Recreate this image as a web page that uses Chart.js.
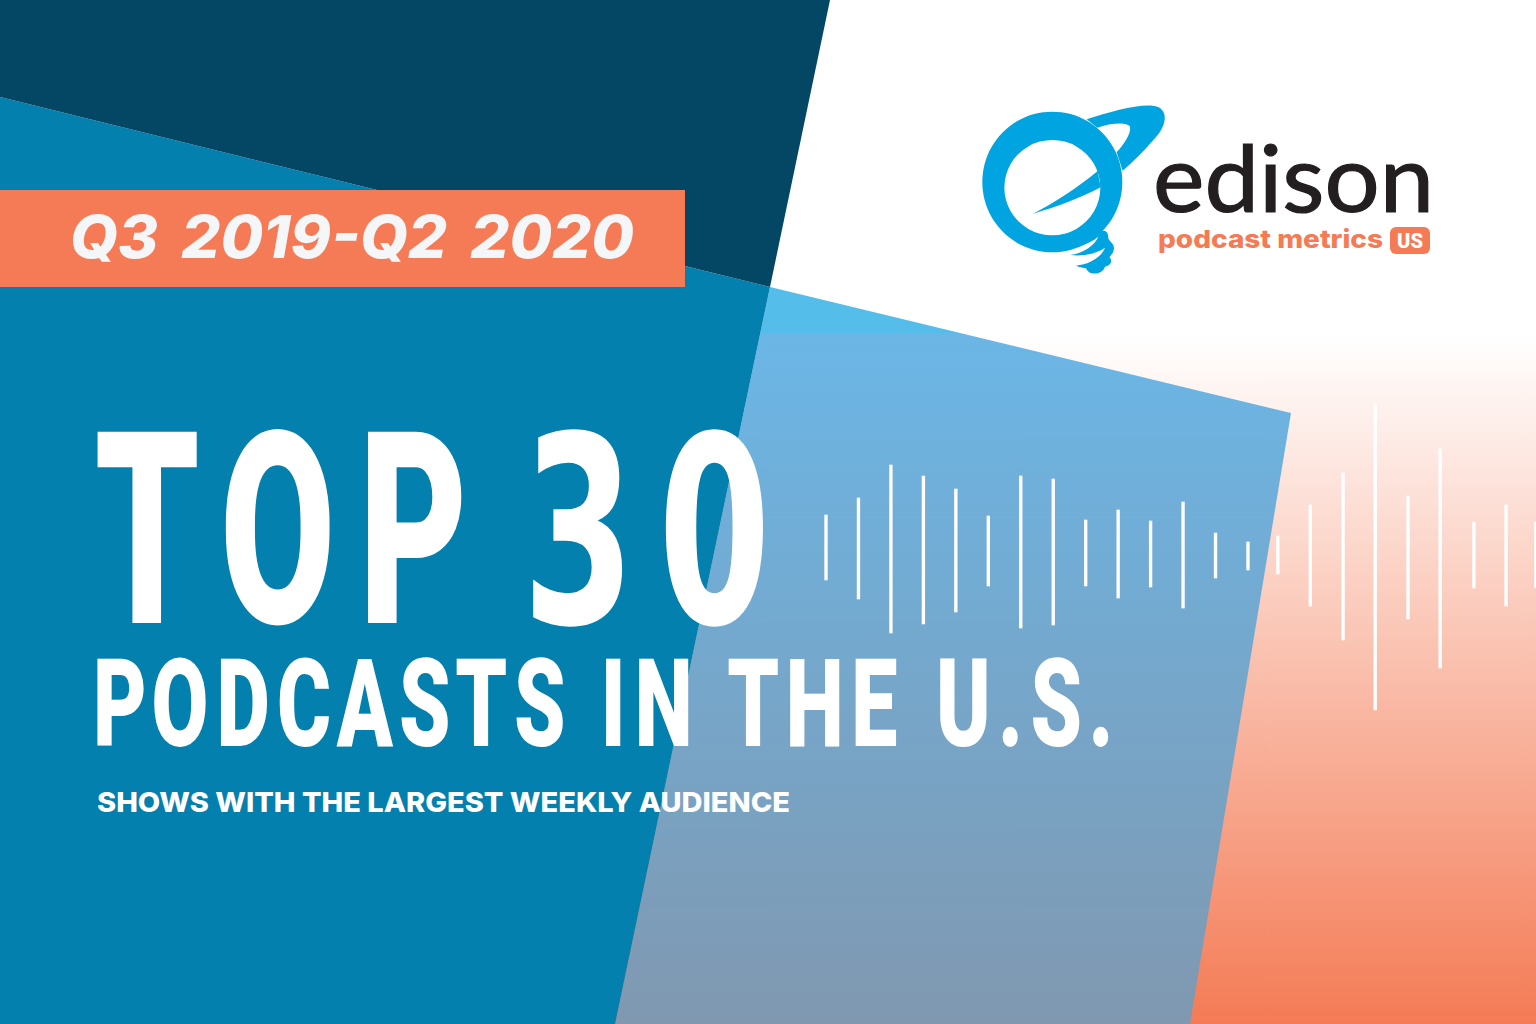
<!DOCTYPE html>
<html>
<head>
<meta charset="utf-8">
<title>Top 30 Podcasts in the U.S.</title>
<script src="https://cdn.jsdelivr.net/npm/chart.js@4"></script>
<style>
    html, body { margin: 0; padding: 0; background: #fff; overflow: hidden; }
    #stage { position: relative; width: 1536px; height: 1024px; overflow: hidden; }
    #art, #wave { position: absolute; left: 0; top: 0; }
</style>
</head>
<body>
<div id="stage">
<svg id="art" width="1536" height="1024" viewBox="0 0 1536 1024" xmlns="http://www.w3.org/2000/svg">
    <defs>
        <linearGradient id="peach" x1="0" y1="335" x2="0" y2="1024" gradientUnits="userSpaceOnUse">
            <stop offset="0" stop-color="#ffffff"/>
            <stop offset="1" stop-color="#f47b55"/>
        </linearGradient>
        <linearGradient id="glass" x1="0" y1="287" x2="0" y2="1024" gradientUnits="userSpaceOnUse">
            <stop offset="0" stop-color="#54bdea"/>
            <stop offset="0.0624" stop-color="#54bdea"/>
            <stop offset="0.0625" stop-color="#6bb6e6"/>
            <stop offset="1" stop-color="#8098b0"/>
        </linearGradient>
    </defs>
    <rect x="0" y="0" width="1536" height="1024" fill="#fff"/>
    <rect x="0" y="335" width="1536" height="689" fill="url(#peach)"/>
    <polygon points="770,287 1291,413 1190,1024 615,1024" fill="url(#glass)"/>
    <polygon points="0,97 770,287 615,1024 0,1024" fill="#0380ad"/>
    <polygon points="0,0 830,0 770,287 0,97" fill="#034764"/>
    <rect x="0" y="190" width="685" height="97" fill="#f57a56"/>
    <text x="70" y="258" font-family="Inter" font-weight="800" font-style="italic" font-size="59" word-spacing="9" fill="#f5f6f7" textLength="564" lengthAdjust="spacingAndGlyphs">Q3 2019-Q2 2020</text>

    <g id="top30" fill="#fff" font-family="Roboto"></g>
    <g id="podcasts" fill="#fff" font-family="Roboto"></g>
    <text x="97" y="812" font-family="Inter" font-weight="800" font-size="27.5" fill="#fff" textLength="693" lengthAdjust="spacingAndGlyphs">SHOWS WITH THE LARGEST WEEKLY AUDIENCE</text>

    <!-- logo -->
    <g transform="translate(960 90) scale(0.3333)" fill="#00a4e0">
        <path fill-rule="evenodd" d="M277,65 A210,211 0 1 1 276.9,65 Z M277,150 A144,143 0 1 0 277.1,150 Z"/>
        <path d="M380,88 C460,62 560,35 596,52 C625,68 620,110 580,150 C550,185 520,215 488,242 L470,187 C490,165 515,130 510,110 C500,95 450,100 412,113 Z"/>
        <path d="M413,243 C350,295 280,340 218,372 C290,350 360,325 422,292 Z"/>
    </g>
    <path transform="translate(1060 225) scale(0.3333)" fill="#00a4e0" d="M125,18 C140,15 145,25 145,40 C148,50 162,55 162,70 C162,85 150,92 148,97 C158,105 155,120 135,125 C130,140 115,148 95,145 C85,143 80,135 78,130 C65,128 55,125 48,122 C90,118 125,95 135,68 C110,85 70,95 30,90 C70,85 105,60 115,35 C90,55 50,70 0,75 L0,30 Z"/>
    <text x="1153" y="212" font-family="Lato" font-size="93" fill="#231f20" stroke="#231f20" stroke-width="1.2" textLength="281" lengthAdjust="spacingAndGlyphs">edison</text>
    <text x="1158" y="248" font-family="Inter" font-weight="800" font-size="25" fill="#f47b55" textLength="225" lengthAdjust="spacingAndGlyphs">podcast metrics</text>
    <rect x="1390" y="227" width="40" height="27" rx="6" fill="#f47b55"/>
    <text x="1397" y="248" font-family="Roboto" font-weight="900" font-size="21" fill="#fff" textLength="26" lengthAdjust="spacingAndGlyphs">US</text>
</svg>
<canvas id="wave" width="1536" height="1024"></canvas>
</div>

<script>
// waveform, one entry per white line. y is amplitude around the centre line
let steps = [0, 1, 2, 3, 4, 5, 6, 7, 8, 9, 10, 11, 12, 13, 13.92, 14.92, 15.93, 16.92, 17.93, 18.92, 19.96, 20.95, 21.87];
let highs = [40, 57, 90, 79, 66, 39, 79, 76, 35, 45, 34, 53, 22, 13, 19, 50, 82, 151, 59, 106, 33, 50, 33];
let lows = [-25, -44, -78, -69, -57, -31, -73, -70, -31, -43, -32, -53, -23, -15, -19, -51, -85, -155, -64, -113, -33, -51, -33];

// big headings: text and where the middle of each letter sits
let line1 = "TOP 30";
let line1Centers = [148, 277.5, 415, 400, 578, 715];
let line2 = "PODCASTS IN THE U.S.";
let line2Centers = [120.5, 180, 244, 304.5, 365, 424.5, 481.5, 539.5, 600, 613.5, 663.5, 710, 753.5, 814.5, 876, 920, 963.5, 1010.5, 1056, 1101];

function placeHeading(groupId, text, centers, size, weight, scaleX, baseline) {
    let ctx = document.createElement("canvas").getContext("2d");
    let digitSize = size * 0.97;
    let xs = [];
    for (let i = 0; i < text.length; i++) {
        // digits come from DejaVu, Roboto's are too narrow once squeezed
        let isDigit = /[0-9]/.test(text[i]);
        ctx.font = isDigit ? "700 " + digitSize + "px 'DejaVu Sans'" : weight + " " + size + "px Roboto";
        let m = ctx.measureText(text[i]);
        let inkMid = (m.actualBoundingBoxRight - m.actualBoundingBoxLeft) / 2;
        xs.push((centers[i] / scaleX - inkMid).toFixed(2));
    }
    let svgNs = "http://www.w3.org/2000/svg";
    let el = document.createElementNS(svgNs, "text");
    el.setAttribute("x", xs.join(" "));
    el.setAttribute("y", baseline);
    el.setAttribute("font-size", size);
    el.setAttribute("transform", "scale(" + scaleX + " 1)");
    text.split(/([0-9]+)/).forEach(part => {
        if (!part) return;
        let span = document.createElementNS(svgNs, "tspan");
        if (/[0-9]/.test(part)) {
            span.setAttribute("font-family", "DejaVu Sans");
            span.setAttribute("font-weight", "700");
            span.setAttribute("font-size", digitSize);
        }
        span.textContent = part;
        el.appendChild(span);
    });
    let group = document.getElementById(groupId);
    group.setAttribute("font-weight", weight);
    group.appendChild(el);
}

placeHeading("top30", line1, line1Centers, 269, 900, 0.62, 623);
placeHeading("podcasts", line2, line2Centers, 123, 900, 0.67, 746);

new Chart(document.getElementById("wave").getContext("2d"), {
    type: "bar",
    data: {
        datasets: [{
            data: steps.map((s, i) => ({ x: s, y: [lows[i], highs[i]] })),
            backgroundColor: "#ffffff",
            barThickness: 2.7,
            borderSkipped: false
        }]
    },
    options: {
        responsive: false,
        animation: false,
        layout: { padding: 0 },
        plugins: { legend: { display: false }, tooltip: { enabled: false } },
        scales: {
            x: { type: "linear", min: -25.447, max: 21.873, offset: false, display: false },
            y: { type: "linear", min: -469, max: 555, display: false }
        }
    }
});
</script>
</body>
</html>
